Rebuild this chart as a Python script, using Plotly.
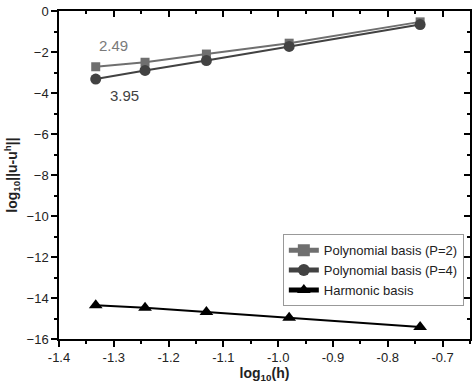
import plotly.graph_objects as go

log_h = [-1.333, -1.243, -1.131, -0.980, -0.741]
poly_p2 = [-2.72, -2.50, -2.10, -1.57, -0.53]
poly_p4 = [-3.32, -2.90, -2.42, -1.73, -0.66]
harmonic = [-14.35, -14.48, -14.68, -14.96, -15.42]
x_ticks = [-1.4, -1.3, -1.2, -1.1, -1.0, -0.9, -0.8, -0.7]
x_tick_text = ["-1.4", "-1.3", "-1.2", "-1.1", "-1.0", "-0.9", "-0.8", "-0.7"]
y_ticks = [0, -2, -4, -6, -8, -10, -12, -14, -16]
rates = ["2.49", "3.95"]

FONT = "Liberation Sans, Arial, sans-serif"
xr = [-1.4, -0.65]
yr = [-16, 0]

fig = go.Figure()
fig.add_trace(go.Scatter(x=log_h, y=poly_p2, mode="lines+markers", name="Polynomial basis (P=2)",
                         line=dict(color="#6f6f6f", width=2),
                         marker=dict(symbol="square", size=9, color="#6f6f6f")))
fig.add_trace(go.Scatter(x=log_h, y=poly_p4, mode="lines+markers", name="Polynomial basis (P=4)",
                         line=dict(color="#424242", width=2),
                         marker=dict(symbol="circle", size=11, color="#424242")))
fig.add_trace(go.Scatter(x=log_h, y=harmonic, mode="lines+markers", name="Harmonic basis",
                         line=dict(color="#000000", width=2),
                         marker=dict(symbol="triangle-up", size=12, color="#000000")))
# invisible trace for mirrored inner-tick axes
fig.add_trace(go.Scatter(x=[xr[0]], y=[yr[0]], xaxis="x2", yaxis="y2", mode="markers",
                         marker=dict(opacity=0), showlegend=False, hoverinfo="skip"))

fig.add_annotation(x=-1.300, y=-1.68, text=rates[0], showarrow=False,
                   font=dict(family=FONT, size=15, color="#7a7a7a"))
fig.add_annotation(x=-1.281, y=-4.14, text=rates[1], showarrow=False,
                   font=dict(family=FONT, size=15, color="#424242"))

axis_common = dict(showgrid=False, zeroline=False, linecolor="#000", linewidth=1.5,
                   ticklen=6, tickwidth=1.5, tickcolor="#000")

fig.update_layout(
    width=474, height=389,
    margin=dict(l=59, r=4, t=8, b=50),
    paper_bgcolor="white", plot_bgcolor="white",
    font=dict(family=FONT, size=13, color="#222"),
    xaxis=dict(range=xr, tickvals=x_ticks, ticktext=x_tick_text, ticks="outside",
               minor=dict(dtick=0.05, tick0=-1.4, ticks="outside", ticklen=3, tickwidth=1.5, tickcolor="#000"),
               title=dict(text="<b>log<sub>10</sub>(h)</b>", font=dict(size=14, color="#222"), standoff=3),
               **axis_common),
    yaxis=dict(range=yr, tickvals=y_ticks, ticks="outside",
               minor=dict(dtick=1, tick0=0, ticks="outside", ticklen=3, tickwidth=1.5, tickcolor="#000"),
               title=dict(text="<b>log<sub>10</sub>||u-u<sup>h</sup>||</b>", font=dict(size=14, color="#222"), standoff=6),
               **axis_common),
    xaxis2=dict(range=xr, overlaying="x", side="top", tickvals=x_ticks, ticks="inside",
                showticklabels=False,
                minor=dict(dtick=0.05, tick0=-1.4, ticks="inside", ticklen=3, tickwidth=1.5, tickcolor="#000"),
                **axis_common),
    yaxis2=dict(range=yr, overlaying="y", side="right", tickvals=y_ticks, ticks="inside",
                showticklabels=False,
                minor=dict(dtick=1, tick0=0, ticks="inside", ticklen=3, tickwidth=1.5, tickcolor="#000"),
                **axis_common),
    legend=dict(x=0.985, xanchor="right", y=0.10, yanchor="bottom",
                bordercolor="#999", borderwidth=1, bgcolor="white",
                font=dict(size=13, color="#222"), tracegroupgap=0,
                itemwidth=30, itemsizing="constant"),
    showlegend=True,
)

fig.write_html("out.html", config={"displayModeBar": False},
               post_script="document.body.style.margin='0';document.body.style.padding='0';")
